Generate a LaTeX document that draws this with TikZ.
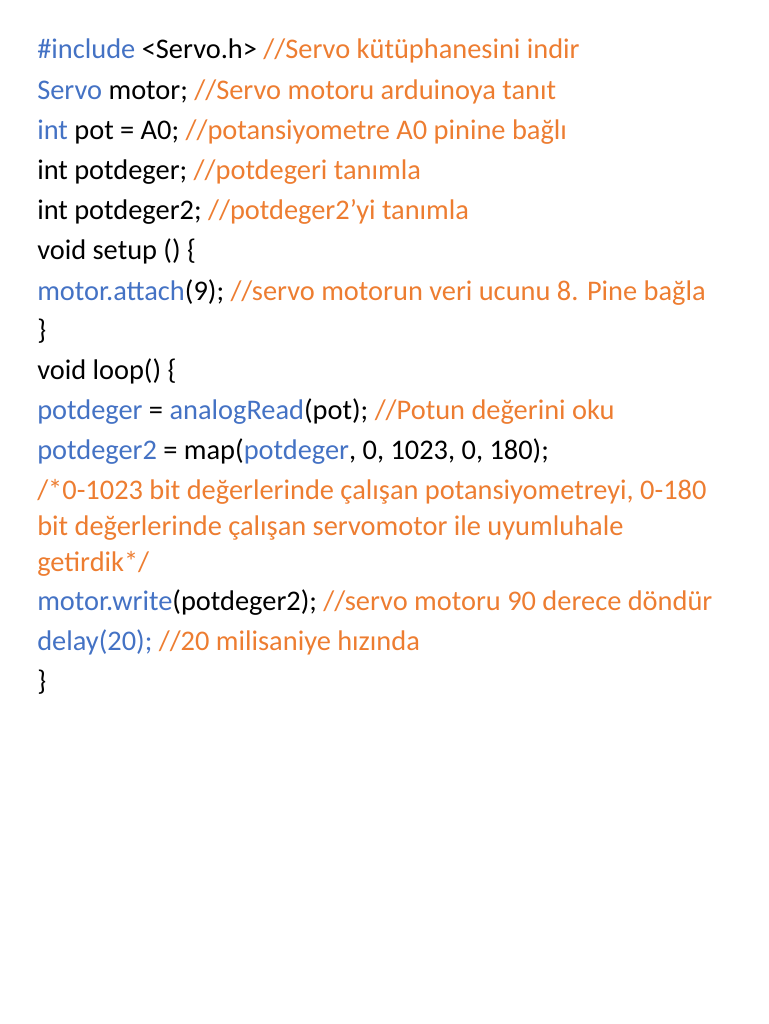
\documentclass[tikz,border=0pt]{standalone}
\usepackage{fontspec}
\setmainfont{Carlito}
\definecolor{kw}{HTML}{4472C4}
\definecolor{cm}{HTML}{ED7D31}
\newcommand{\B}[1]{\textcolor{kw}{#1}}
\newcommand{\C}[1]{\textcolor{cm}{#1}}
\begin{document}
\begin{tikzpicture}[x=0.75pt,y=-0.75pt,
  ln/.style={anchor=base west,inner sep=0pt,font=\fontsize{21.3}{25}\selectfont}]
\useasboundingbox (0,0) rectangle (768,1024);
\node[ln] (l1) at (37,59) {\B{\#include} <Servo.h> \C{//Servo kütüphanesini indir}};
\node[ln] (l2) at (37,99) {\B{Servo} motor; \C{//Servo motoru arduinoya tanıt}};
\node[ln] (l3) at (37,139) {\B{int} pot = A0; \C{//potansiyometre A0 pinine bağlı}};
\node[ln] (l4) at (37,179) {int potdeger; \C{//potdegeri tanımla}};
\node[ln] (l5) at (37,219) {int potdeger2; \C{//potdeger2’yi tanımla}};
\node[ln] (l6) at (37,259) {void setup () \{};
\node[ln] (l7) at (37,300) {\B{motor.attach}(9); \C{//servo motorun veri ucunu 8. Pine bağla}};
\node[ln] (l8) at (37,339) {\}};
\node[ln] (l9) at (37,379) {void loop() \{};
\node[ln] (l10) at (37,419) {\B{potdeger} = \B{analogRead}(pot); \C{//Potun değerini oku}};
\node[ln] (l11) at (37,459) {\B{potdeger2} = map(\B{potdeger}, 0, 1023, 0, 180);};
\node[ln] (l12) at (37,499) {\C{/*0-1023 bit değerlerinde çalışan potansiyometreyi, 0-180}};
\node[ln] (l13) at (37,535) {\C{bit değerlerinde çalışan servomotor ile uyumluhale}};
\node[ln] (l14) at (37,571) {\C{getirdik*/}};
\node[ln] (l15) at (37,610) {\B{motor.write}(potdeger2); \C{//servo motoru 90 derece döndür}};
\node[ln] (l16) at (37,650) {\B{delay(20);} \C{//20 milisaniye hızında}};
\node[ln] (l17) at (37,690) {\}};
\end{tikzpicture}
\end{document}
